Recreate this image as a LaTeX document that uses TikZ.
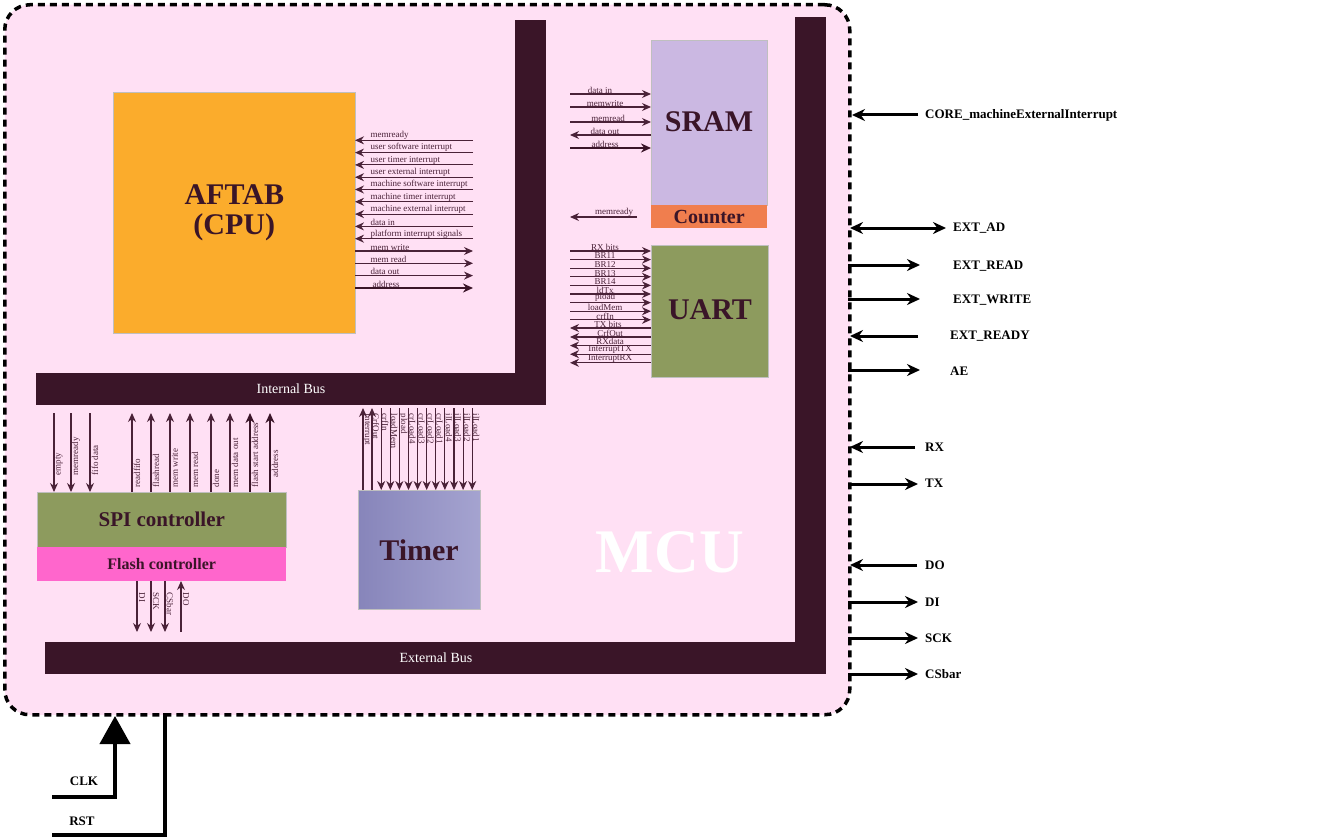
\documentclass[tikz,border=0pt]{standalone}
\usepackage{fontspec}
\setmainfont{Liberation Serif}
\usetikzlibrary{arrows.meta}
\definecolor{pinkbg}{HTML}{FFE0F4}
\definecolor{busc}{HTML}{3A1528}
\definecolor{cpuc}{HTML}{FBAC2C}
\definecolor{sramc}{HTML}{CBB8E2}
\definecolor{cntc}{HTML}{F07E4E}
\definecolor{olive}{HTML}{8D9B5E}
\definecolor{flashc}{HTML}{FF66CC}
\definecolor{timerc}{HTML}{8E8CC4}
\definecolor{sigc}{HTML}{4A2238}
\tikzset{
 bus/.style={fill=busc,draw=none},
 blk/.style={draw=black!25,line width=0.6pt,inner sep=0},
 big/.style={font=\fontsize{30}{30}\selectfont\bfseries,text=busc},
 sml/.style={font=\fontsize{9}{9}\selectfont,inner sep=0.5pt,text=sigc},
 sig/.style={draw=sigc,line width=1.1pt,-{Stealth[length=9,width=8]}},
 tsig/.style={draw=busc,line width=2.2pt,-{Stealth[length=10,width=9]}},
 ext/.style={draw=black,line width=3pt,-{Stealth[length=13,width=12]}},
 elab/.style={font=\fontsize{13}{13}\selectfont\bfseries,anchor=west,inner sep=0}
}
\begin{document}
\begin{tikzpicture}[x=1pt,y=-1pt]
\useasboundingbox (0,0) rectangle (1341,840);
% MCU
\node[draw=black,dash pattern=on 7pt off 5pt,line width=3.5pt,fill=pinkbg,rounded corners=25,minimum width=845,minimum height=710,anchor=north west,inner sep=0] (mcu) at (3,3) {};
\node[font=\fontsize{62}{62}\selectfont\bfseries,text=white] (mcul) at (670,552) {MCU};
% buses
\fill[bus] (36,373) rectangle (546,405);
\fill[bus] (515,20) rectangle (546,405);
\node[text=white,font=\fontsize{14}{14}\selectfont] (ib) at (291,389) {Internal Bus};
\fill[bus] (45,642) rectangle (826,674);
\fill[bus] (795,17) rectangle (826,674);
\node[text=white,font=\fontsize{14}{14}\selectfont] (eb) at (436,658) {External Bus};
% CPU
\node[blk,fill=cpuc,minimum width=242,minimum height=241,anchor=north west] (cpu) at (113,92) {};
\node[big,align=center] at (cpu.center) {AFTAB\\(CPU)};
\foreach \t [count=\i] in {memready,user software interrupt,user timer interrupt,user external interrupt,machine software interrupt,machine timer interrupt,machine external interrupt,data in,platform interrupt signals}{
 \draw[sig] (473,{128+12.3*\i}) -- (355,{128+12.3*\i});
 \node[sml,anchor=south west] at (370,{128+12.3*\i}) {\t};
}
\foreach \t [count=\i from 10] in {mem write,mem read,data out}{
 \draw[sig] (355,{128+12.3*\i}) -- (473,{128+12.3*\i});
 \node[sml,anchor=south west] at (370,{128+12.3*\i}) {\t};
}
\draw[tsig,line width=1.8pt] (355,288) -- (473,288);
\node[sml,anchor=south west] at (372,288) {address};
% SRAM
\node[blk,fill=sramc,minimum width=116,minimum height=165,anchor=north west] (sram) at (651,40) {};
\node[big] at (709,122) {SRAM};
\node[fill=cntc,minimum width=116,minimum height=23,anchor=north west,inner sep=0,font=\fontsize{20}{20}\selectfont\bfseries,text=busc] (cnt) at (651,205) {Counter};
\draw[sig] (570,94) -- (651,94); \node[sml,anchor=south] at (600,94) {data in};
\draw[sig] (570,107) -- (651,107); \node[sml,anchor=south] at (605,107) {memwrite};
\draw[sig] (570,122) -- (651,122); \node[sml,anchor=south] at (608,122) {memread};
\draw[sig] (651,135) -- (570,135); \node[sml,anchor=south] at (605,135) {data out};
\draw[tsig,line width=1.8pt] (570,148) -- (651,148); \node[sml,anchor=south] at (605,148) {address};
\draw[sig] (637,217) -- (570,217); \node[sml,anchor=south] at (614,217) {memready};
% UART
\node[blk,fill=olive,minimum width=117,minimum height=132,anchor=north west] (uart) at (651,245) {};
\node[big] at (710,310) {UART};
\foreach \t [count=\i from 0] in {RX bits,BR11,BR12,BR13,BR14,ldTx,pload,loadMem,crfIn}{
 \draw[sig] (570,{251+8.6*\i}) -- (651,{251+8.6*\i});
 \node[sml,anchor=south] at (605,{251+8.6*\i}) {\t};
}
\draw[sig] (651,328) -- (570,328); \node[sml,anchor=south] at (608,328) {TX bits};
\foreach \t [count=\i from 10] in {CrfOut,RXdata,InterruptTX,InterruptRX}{
 \draw[sig] (651,{251+8.6*\i}) -- (570,{251+8.6*\i});
 \node[sml,anchor=south] at (610,{251+8.6*\i}) {\t};
}
% SPI
\node[blk,fill=olive,minimum width=249,minimum height=55,anchor=north west,font=\fontsize{21}{21}\selectfont\bfseries,text=busc] (spi) at (37,492) {SPI controller};
\node[fill=flashc,minimum width=249,minimum height=34,anchor=north west,inner sep=0,font=\fontsize{16}{16}\selectfont\bfseries,text=busc] (flash) at (37,547) {Flash controller};
\foreach \x/\t in {54/empty,71/memready,90/fifo data}{
 \draw[sig] (\x,413) -- (\x,492);
 \node[sml,rotate=90,anchor=west] at (\x+5,476) {\t};
}
\foreach \x/\t in {132/readfifo,151/flashread,170/mem write,190/mem read,211/done,230/mem data out}{
 \draw[sig] (\x,492) -- (\x,413);
 \node[sml,rotate=90,anchor=west] at (\x+5,488) {\t};
}
\draw[tsig,line width=1.8pt] (250,492) -- (250,413); \node[sml,rotate=90,anchor=west] at (255,488) {flash start address};
\draw[tsig,line width=1.8pt] (270,492) -- (270,413); \node[sml,rotate=90,anchor=west] at (275,478) {address};
\foreach \x/\t in {137/DI,151/SCK,165/CSbar}{
 \draw[sig] (\x,581) -- (\x,632);
 \node[sml,rotate=-90,anchor=west] at (\x+5,592) {\t};
}
\draw[sig] (181,632) -- (181,581); \node[sml,rotate=-90,anchor=west] at (186,592) {DO};
% Timer
\shade[left color=timerc!95!black,right color=timerc!80!white,draw=black!25] (358,490) rectangle (480,609);
\node[big] (timer) at (419,550) {Timer};
\foreach \x/\t in {363/Interrupt,372/CrfOut}{
 \draw[sig] (\x,490) -- (\x,408);
 \node[sml,rotate=-90,anchor=west] at (\x+4,413) {\t};
}
\foreach \t [count=\i from 2] in {crfIn,loadMem,pload,crLoad4,crLoad3,crLoad2,crLoad1,ilLoad4,ilLoad3,ilLoad2,ilLoad1}{
 \draw[sig] ({363+9.1*\i},408) -- ({363+9.1*\i},490);
 \node[sml,rotate=-90,anchor=west] at ({367+9.1*\i},413) {\t};
}
% external signals
\node[elab] (n1) at (925,115) {CORE\_machineExternalInterrupt};
\draw[ext] (918,115) -- (852,115);
\node[elab] (n2) at (953,228) {EXT\_AD};
\draw[ext,{Stealth[length=13,width=12]}-{Stealth[length=13,width=12]}] (850,228) -- (946,228);
\node[elab] (n3) at (953,266) {EXT\_READ};
\draw[ext] (848,265) -- (920,265);
\node[elab] (n4) at (953,300) {EXT\_WRITE};
\draw[ext] (848,299) -- (920,299);
\node[elab] (n5) at (950,336) {EXT\_READY};
\draw[ext] (918,336) -- (850,336);
\node[elab] (n6) at (950,371) {AE};
\draw[ext] (848,370) -- (920,370);
\node[elab] (n7) at (925,447) {RX};
\draw[ext] (915,447) -- (850,447);
\node[elab] (n8) at (925,483) {TX};
\draw[ext] (848,484) -- (918,484);
\node[elab] (n9) at (925,565) {DO};
\draw[ext] (917,565) -- (850,565);
\node[elab] (n10) at (925,602) {DI};
\draw[ext] (848,602) -- (918,602);
\node[elab] (n11) at (925,638) {SCK};
\draw[ext] (848,638) -- (918,638);
\node[elab] (n12) at (925,674) {CSbar};
\draw[ext] (848,674) -- (918,674);
% CLK / RST
\node[elab,anchor=center] (clk) at (84,781) {CLK};
\node[elab,anchor=center] (rst) at (82,821) {RST};
\draw[black,line width=4pt,-{Triangle[length=28,width=30]}] (52,797) -- (115,797) -- (115,716);
\draw[black,line width=4pt] (52,835) -- (165,835) -- (165,713);
\end{tikzpicture}
\end{document}
